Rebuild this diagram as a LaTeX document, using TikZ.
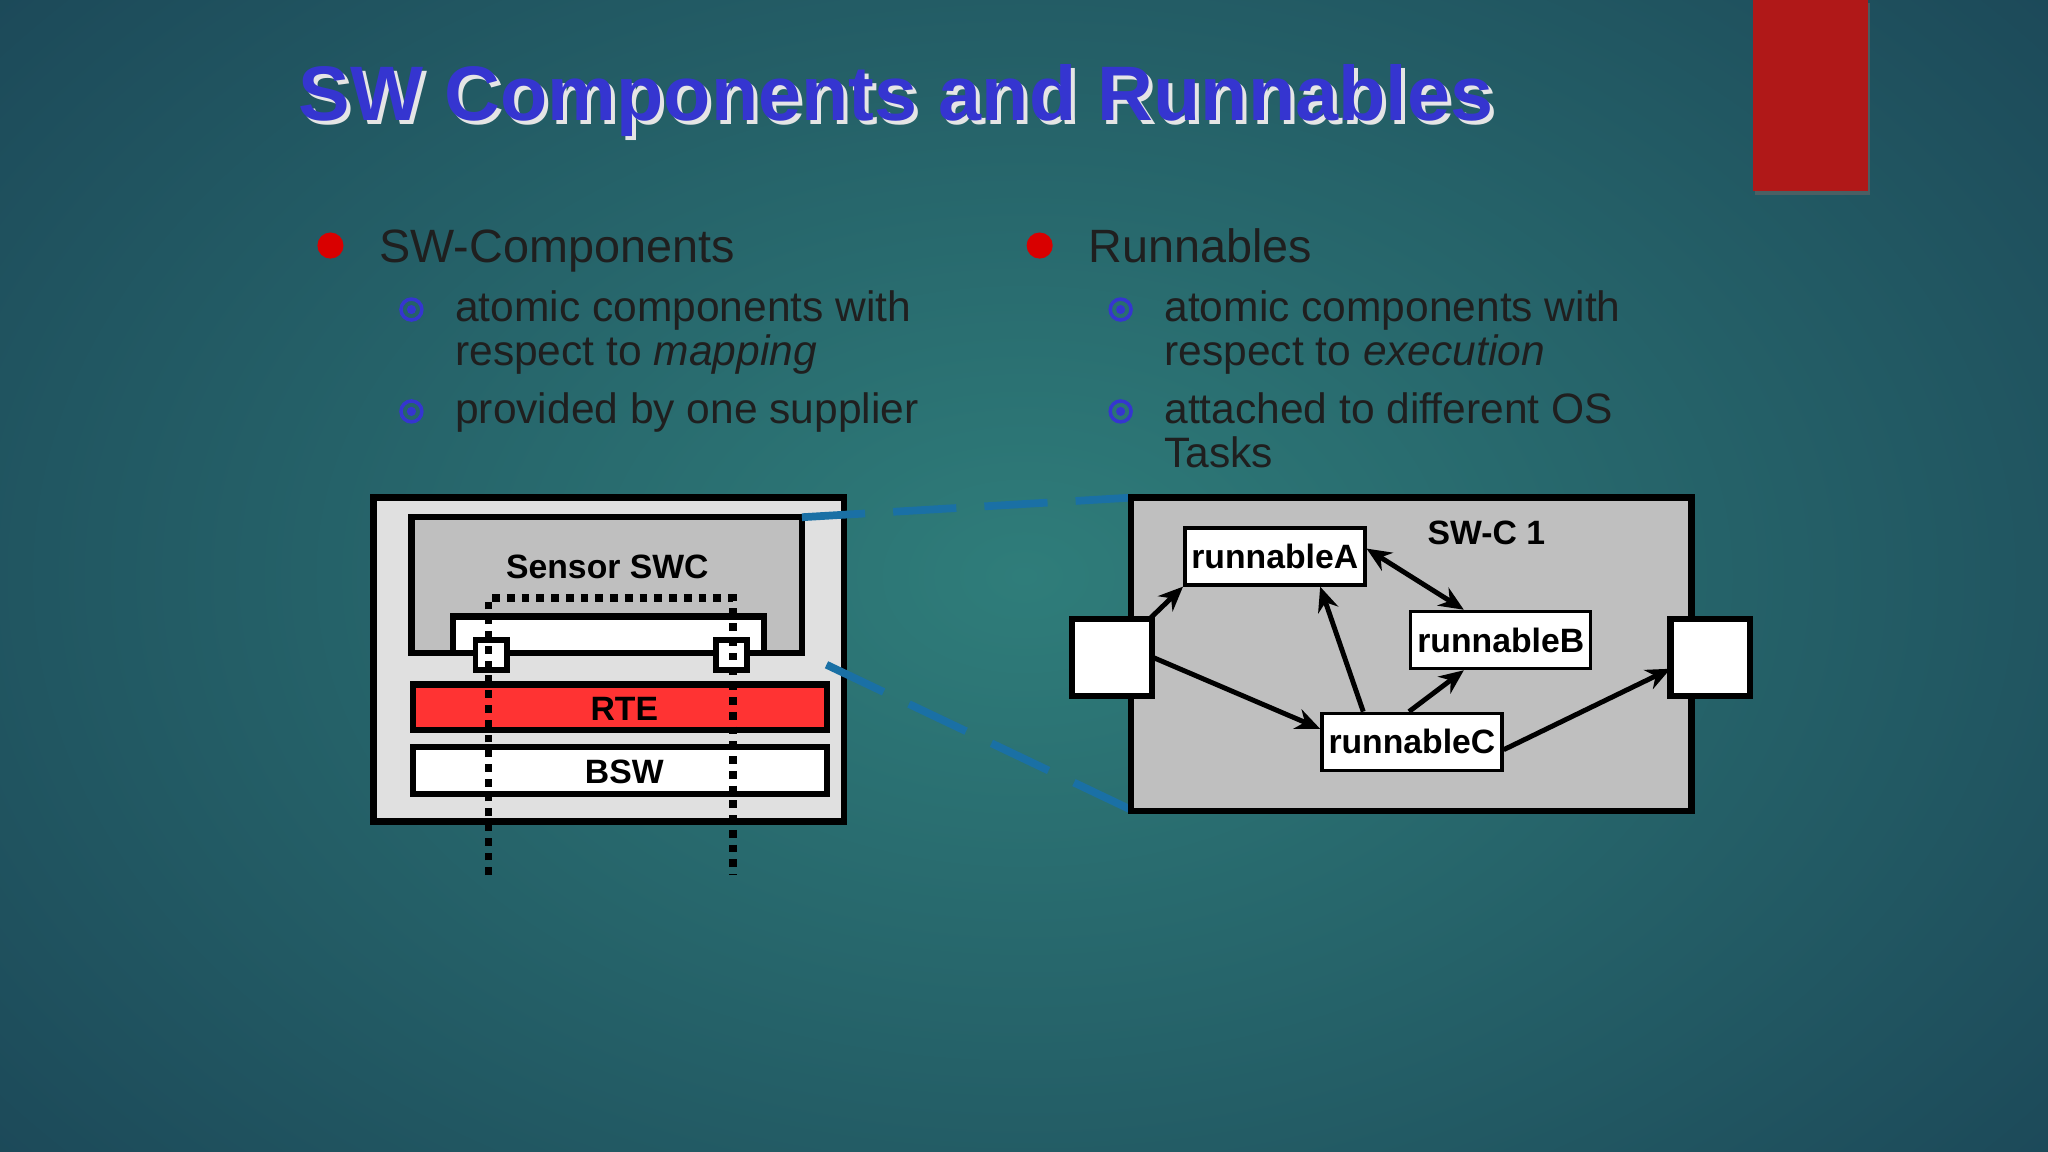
\documentclass[tikz,border=0pt]{standalone}
\usepackage{fontspec}
\setmainfont{Liberation Sans}
\usetikzlibrary{arrows.meta,calc}
\definecolor{bgin}{HTML}{2F7D7A}
\definecolor{bgout}{HTML}{1B4657}
\definecolor{ttl}{HTML}{3535D0}
\definecolor{redbar}{HTML}{B01818}
\definecolor{rte}{HTML}{FF3333}
\definecolor{dashb}{HTML}{1A70A5}
\begin{document}
\begin{tikzpicture}[x=0.013061cm,y=-0.013061cm,
  bt/.style={font=\fontsize{12.1pt}{12.4pt}\selectfont,text=black!88,anchor=base west,inner sep=0},
  bh/.style={font=\fontsize{13.3pt}{14pt}\selectfont,text=black!88,anchor=base west,inner sep=0},
  lbl/.style={font=\bfseries\fontsize{9.6pt}{11pt}\selectfont,text=black},
  rbox/.style={lbl,draw=black,line width=1pt,fill=white,minimum width=1.8cm,minimum height=0.57cm,inner sep=0},
  arr/.style={-{Stealth[length=7pt,width=6pt]},line width=1.4pt}]
\useasboundingbox (0,0) rectangle (1568,882);
\shade[inner color=bgin,outer color=bgout] (-300,-300) rectangle (1868,1182);
\fill[black!60,opacity=0.6] (1344,2) rectangle (1432,149);
\fill[redbar] (1342,0) rectangle (1430,146);
% title
\node (tsh) at (689,80) {\bfseries\fontsize{22pt}{26pt}\selectfont\color{white!80!gray}SW Components and Runnables};
\node (title) at (686,77) {\bfseries\fontsize{22pt}{26pt}\selectfont\color{ttl}SW Components and Runnables};
% bullets
\fill[red!85!black] (253,188) circle (10);
\fill[red!85!black] (796,188) circle (10);
\node[bh] (b1) at (290,201) {SW-Components};
\node[bh] (b2) at (833,201) {Runnables};
\foreach \x/\y in {315/237,315/315,858/237,858/315}{
  \draw[ttl,line width=1pt] (\x,\y) circle (8); \fill[ttl] (\x,\y) circle (3.5);}
\node[bt] (s1a) at (348,246) {atomic components with};
\node[bt] (s1b) at (348,280) {respect to \textit{mapping}};
\node[bt] (s2) at (348,324) {provided by one supplier};
\node[bt] (s3a) at (891,246) {atomic components with};
\node[bt] (s3b) at (891,280) {respect to \textit{execution}};
\node[bt] (s4a) at (891,324) {attached to different OS};
\node[bt] (s4b) at (891,358) {Tasks};
% left diagram
\draw[line width=1.8pt,fill=black!12] (286,381) rectangle (646,629);
\draw[line width=1.8pt,fill=black!25] (315,396) rectangle (614,500);
\node[lbl] (sens) at (465,434) {Sensor SWC};
\draw[line width=1.8pt,fill=white] (347,472) rectangle (585,500);
\draw[line width=1.8pt,fill=rte] (316,524) rectangle (633,559);
\node[lbl] (rtel) at (478,543) {RTE};
\draw[line width=1.8pt,fill=white] (316,572) rectangle (633,608);
\node[lbl] (bswl) at (478,591) {BSW};
\draw[line width=1.6pt,fill=white] (364,490) rectangle (388,513);
\draw[line width=1.6pt,fill=white] (548,490) rectangle (572,513);
\draw[line width=2.2pt,dotted] (374,670) -- (374,458) -- (561,458) -- (561,670);
% dashed zoom lines
\draw[dashb,line width=2.2pt,dash pattern=on 18pt off 8pt] (614,396) -- (866,381);
\draw[dashb,line width=2.2pt,dash pattern=on 18pt off 8pt] (866,620) -- (614,500);
% right diagram
\draw[line width=1.8pt,fill=black!25] (866,381) rectangle (1295,621);
\node[lbl] (swc) at (1138,408) {SW-C 1};
\draw[line width=1.8pt,fill=white] (821,474) rectangle (882,533);
\draw[line width=1.8pt,fill=white] (1279,474) rectangle (1340,533);
\coordinate (pl) at (882,503); \coordinate (plt) at (880,474); \coordinate (pr) at (1279,512);
\node[rbox] (ra) at (976,426) {runnableA};
\node[rbox] (rb) at (1149,490) {runnableB};
\node[rbox] (rc) at (1081,568) {runnableC};
\draw[arr] (plt) -- (ra.south west);
\draw[arr] (pl) -- ($(rc.west)+(0,-10)$);
\draw[arr] ($(rc.north west)+(33,0)$) -- ($(ra.south west)+(105,0)$);
\draw[arr] ($(rc.north west)+(68,0)$) -- ($(rb.south west)+(42,0)$);
\draw[arr,{Stealth[length=7pt,width=6pt]}-{Stealth[length=7pt,width=6pt]}] ($(ra.east)+(0,-6)$) -- ($(rb.north west)+(42,0)$);
\draw[arr] ($(rc.east)+(0,6)$) -- (pr);
\end{tikzpicture}
\end{document}
